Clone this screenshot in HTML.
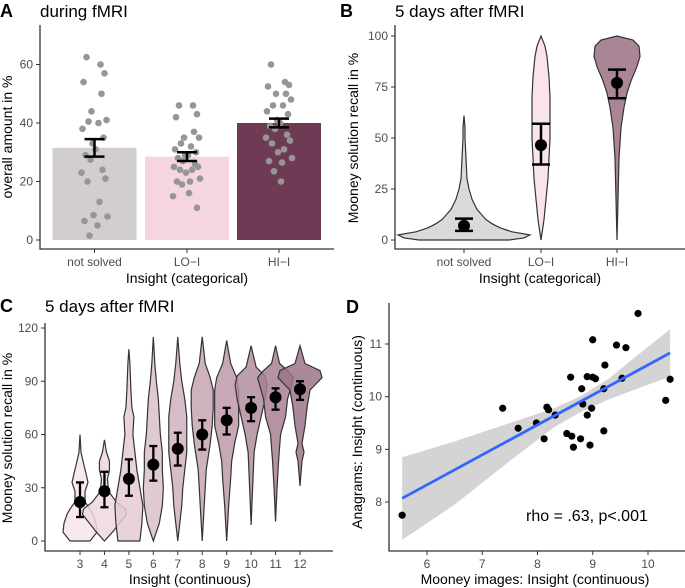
<!DOCTYPE html>
<html><head><meta charset="utf-8"><style>
html,body{margin:0;padding:0;background:#fff}
svg{display:block;font-family:"Liberation Sans",Arial,sans-serif}
.tick{font-size:12px;fill:#4d4d4d}
.atitle{font-size:14px;fill:#000}
.ptitle{font-size:17px;fill:#000}
.letter{font-size:18px;font-weight:bold;fill:#000}
</style></head><body>
<svg id="fig" width="685" height="588" viewBox="0 0 685 588" xmlns="http://www.w3.org/2000/svg"></svg>
<script>
// ---------- Panel A data ----------
const aCategories = ["not solved","LO\u2212I","HI\u2212I"];
const aMeans = [31.5, 28.5, 40];
const aErrLo = [28.5, 27, 38.5];
const aErrHi = [34.5, 30, 41.5];
const aPointsNS = [62.5,60,57,54,50,44,41,40.5,40,38,35,33,31,29,27.5,24,23,21,20,13,8.5,8,6.5,5,1.5];
const aPointsLO = [46,46,43,42,37,35,35,33,32,31,30,29,29,28,27,26,25,25,24,24,23,21,20,20,19,16,15,11];
const aPointsHI = [60,54,53,52.5,50,50,48,46,46,44,43,41,40,39,38,36,35,34,33,31,30,28,27,26.5,23.5,20];
const aTicks = [0,20,40,60];
// ---------- Panel B data ----------
const bCategories = ["not solved","LO\u2212I","HI\u2212I"];
const bMeans = [7, 46.5, 77];
const bErrLo = [4.5, 37, 69.5];
const bErrHi = [10.5, 57, 83.5];
const bViolinNS = [[0,45],[1,60],[2.5,66],[4,48],[6,36],[8,28],[10,22],[15,13],[20,8],[25,5],[30,3],[35,2.5],[40,2],[45,1.5],[50,1],[55,1],[61,0]];
const bViolinLO = [[0,0],[10,3],[20,5],[30,7],[40,8],[50,9],[60,9],[70,9],[80,8],[90,6],[95,4],[100,0]];
const bViolinHI = [[0,0],[20,1],[40,2],[55,4],[65,7],[72,10],[78,14],[85,20],[90,23],[95,22],[98,16],[100,0]];
const bTicks = [0,25,50,75,100];
// ---------- Panel C data ----------
const cLevels = [3,4,5,6,7,8,9,10,11,12];
const cMeans = [22,28,35,43,52,60,68,75,81,85.5];
const cErrLo = [13.5,19,25.5,34,42.5,51.5,60,67.5,74,79.5];
const cErrHi = [33,39,46,53.5,61,68,75,81,86,90];
const cViolins = [
 [[0,10],[5,17],[10,16],[15,13],[18,10],[22,5],[28,5],[33,8],[38,6],[45,3],[50,1],[60,0]],
 [[0,0],[5,8],[10,15],[15,22],[18,21],[22,12],[28,4],[35,3],[40,5],[45,5],[50,2],[57,0]],
 [[0,11],[10,13],[20,14],[30,11],[40,8],[50,6],[60,4],[70,5],[75,3],[85,2],[100,1],[108,0]],
 [[0,0],[10,6],[20,9],[30,10],[40,9],[50,9],[60,7],[70,6],[80,5],[90,3],[100,1.5],[115,0]],
 [[0,0],[10,2],[20,4],[30,5],[40,7],[50,9],[60,9],[70,9],[80,7],[90,4],[100,2],[115,0]],
 [[0,0],[20,2],[40,4],[55,8],[65,10],[75,11],[85,11],[92,8],[100,3],[115,0]],
 [[0,0],[20,2],[35,4],[45,5],[55,8],[65,12],[75,12],[85,12],[92,10],[100,4],[113,0]],
 [[9,0],[30,1.5],[50,3],[60,6],[70,10],[80,14],[88,16],[93,14],[98,5],[110,0]],
 [[11,0],[30,1.5],[45,3],[60,5],[70,10],[80,12],[88,16],[92,18],[96,12],[100,4],[110,0]],
 [[31,0],[45,2],[50,4],[55,2],[65,5],[75,7],[85,10],[92,22],[96,20],[100,5],[110,0]]
];
const cTicks = [0,30,60,90,120];
// ---------- Panel D data ----------
const dX = [5.55,7.37,7.65,7.98,8.12,8.17,8.2,8.32,8.53,8.6,8.62,8.65,8.78,8.8,8.82,8.9,8.9,8.95,8.98,9,9.05,9,9.2,9.2,9.22,9.43,9.53,9.6,9.82,10.32,10.4];
const dY = [7.75,9.78,9.4,9.5,9.2,9.8,9.75,9.65,9.3,10.37,9.25,9.04,9.2,10.15,9.86,9.65,10.38,9.08,9.78,10.37,10.34,11.08,10.15,9.35,10.6,10.98,10.35,10.93,11.58,9.93,10.33];
const dFitX = [5.55,10.4];
const dFitY = [8.07,10.83];
const dBandX = [5.55,6.5,7.5,8.3,8.8,9.3,9.8,10.4];
const dBandLo = [7.28,7.95,8.78,9.42,9.72,9.95,10.15,10.38];
const dBandHi = [8.85,9.15,9.50,9.78,10.02,10.35,10.78,11.28];
const dXTicks = [6,7,8,9,10];
const dYTicks = [8,9,10,11];

const NS="http://www.w3.org/2000/svg";
const svg=document.getElementById('fig');
function mk(tag,attrs,parent){const e=document.createElementNS(NS,tag);for(const k in attrs)e.setAttribute(k,attrs[k]);(parent||svg).appendChild(e);return e;}
function txt(s,x,y,cls,anchor,parent){const t=mk('text',{x:x,y:y,class:cls,'text-anchor':anchor||'start'},parent);t.textContent=s;return t;}

// ===== Panel A =====
const gA=mk('g',{});


const aY=v=>240-v*(58.5/20);
const aXc=[94.5,187,279];
let t=txt('A',0,17,'letter','start',gA);

t=txt('during fMRI',40,17,'ptitle','start',gA);

const aColors=['#d2cece','#f4d5e1','#6f3a53'];
aMeans.forEach((m,i)=>{
  const r=mk('rect',{x:aXc[i]-42,y:aY(m),width:84,height:aY(0)-aY(m),fill:aColors[i]},gA);
  
});
const jit=[-8,6,10,-11,7,-3,12,-6,4,-12,9,-2,1,-9,-4,8,-13,11,-7,5,-1,13,-10,3,-5,2,-14,10];
[aPointsNS,aPointsLO,aPointsHI].forEach((arr,i)=>{
  arr.forEach((v,j)=>{
    const c=mk('circle',{cx:aXc[i]+jit[j%jit.length],cy:aY(v),r:3.3,fill:'#969696'},gA);
    
  });
});
aMeans.forEach((m,i)=>{
  const x=aXc[i];
  const g=mk('g',{stroke:'#000','stroke-width':2.5},gA);
  
  mk('line',{x1:x,x2:x,y1:aY(aErrLo[i]),y2:aY(aErrHi[i])},g);
  mk('line',{x1:x-10,x2:x+10,y1:aY(aErrLo[i]),y2:aY(aErrLo[i])},g);
  mk('line',{x1:x-10,x2:x+10,y1:aY(aErrHi[i]),y2:aY(aErrHi[i])},g);
});
mk('polyline',{points:'40,25 40,249 334,249',fill:'none',stroke:'#333','stroke-width':1.3},gA);
aTicks.forEach(v=>{mk('line',{x1:36,x2:40,y1:aY(v),y2:aY(v),stroke:'#333'},gA);txt(String(v),33,aY(v)+4,'tick','end',gA);});
aCategories.forEach((c,i)=>{mk('line',{x1:aXc[i],x2:aXc[i],y1:249,y2:253,stroke:'#333'},gA);txt(c,aXc[i],266,'tick','middle',gA);});
t=txt('Insight (categorical)',187,283,'atitle','middle',gA);
t=txt('overall amount in %',0,0,'atitle','middle',gA);t.setAttribute('transform','translate(12,137) rotate(-90)');


function violinPath(prof,cx,yf,scale){
  let right=prof.map(p=>(cx+p[1]*scale)+','+yf(p[0]));
  let left=prof.slice().reverse().map(p=>(cx-p[1]*scale)+','+yf(p[0]));
  return 'M'+right.join(' L')+' L'+left.join(' L')+' Z';
}

// ===== Panel B =====
const gB=mk('g',{});


const bY=v=>240-v*(204/100);
const bXc=[464,541,617];
t=txt('B',340,17,'letter','start',gB);
t=txt('5 days after fMRI',395,17,'ptitle','start',gB);
const bColors=['#d9d9d9','#f9e3ec','#aa8595'];
[bViolinNS,bViolinLO,bViolinHI].forEach((prof,i)=>{
  const p=mk('path',{d:violinPath(prof,bXc[i],bY,1),fill:bColors[i],stroke:'#333','stroke-width':1.2},gB);
  
});
bMeans.forEach((m,i)=>{
  const x=bXc[i];
  const g=mk('g',{stroke:'#000','stroke-width':2.5},gB);
  
  mk('line',{x1:x,x2:x,y1:bY(bErrLo[i]),y2:bY(bErrHi[i])},g);
  mk('line',{x1:x-9,x2:x+9,y1:bY(bErrLo[i]),y2:bY(bErrLo[i])},g);
  mk('line',{x1:x-9,x2:x+9,y1:bY(bErrHi[i]),y2:bY(bErrHi[i])},g);
  const c=mk('circle',{cx:x,cy:bY(m),r:6,fill:'#000'},gB);
  
});
mk('polyline',{points:'395,25 395,249 685,249',fill:'none',stroke:'#333','stroke-width':1.3},gB);
bTicks.forEach(v=>{mk('line',{x1:391,x2:395,y1:bY(v),y2:bY(v),stroke:'#333'},gB);txt(String(v),388,bY(v)+4,'tick','end',gB);});
bCategories.forEach((c,i)=>{mk('line',{x1:bXc[i],x2:bXc[i],y1:249,y2:253,stroke:'#333'},gB);txt(c,bXc[i],266,'tick','middle',gB);});
t=txt('Insight (categorical)',540,283,'atitle','middle',gB);
t=txt('Mooney solution recall in %',0,0,'atitle','middle',gB);t.setAttribute('transform','translate(358,138) rotate(-90)');


// ===== Panel C =====
const gC=mk('g',{});


const cY=v=>541-v*(213/120);
const cX=l=>80+(l-3)*(220/9);
t=txt('C',0,312,'letter','start',gC);
t=txt('5 days after fMRI',45,312,'ptitle','start',gC);
cViolins.forEach((prof,i)=>{
  const f=i/9;
  const r=Math.round(248+(158-248)*f),g=Math.round(228+(116-228)*f),b=Math.round(236+(136-236)*f);
  const p=mk('path',{d:violinPath(prof,cX(cLevels[i]),cY,1),fill:'rgb('+r+','+g+','+b+')','fill-opacity':0.85,stroke:'#333','stroke-width':1.2},gC);
  
});
cMeans.forEach((m,i)=>{
  const x=cX(cLevels[i]);
  const g=mk('g',{stroke:'#000','stroke-width':2.3},gC);
  
  mk('line',{x1:x,x2:x,y1:cY(cErrLo[i]),y2:cY(cErrHi[i])},g);
  mk('line',{x1:x-4,x2:x+4,y1:cY(cErrLo[i]),y2:cY(cErrLo[i])},g);
  mk('line',{x1:x-4,x2:x+4,y1:cY(cErrHi[i]),y2:cY(cErrHi[i])},g);
  const c=mk('circle',{cx:x,cy:cY(m),r:6,fill:'#000'},gC);
  
});
mk('polyline',{points:'45,323 45,551 333,551',fill:'none',stroke:'#333','stroke-width':1.3},gC);
cTicks.forEach(v=>{mk('line',{x1:41,x2:45,y1:cY(v),y2:cY(v),stroke:'#333'},gC);txt(String(v),38,cY(v)+4,'tick','end',gC);});
cLevels.forEach(l=>{mk('line',{x1:cX(l),x2:cX(l),y1:551,y2:555,stroke:'#333'},gC);txt(String(l),cX(l),568,'tick','middle',gC);});
t=txt('Insight (continuous)',190,584,'atitle','middle',gC);
t=txt('Mooney solution recall in %',0,0,'atitle','middle',gC);t.setAttribute('transform','translate(12,438) rotate(-90)');


// ===== Panel D =====
const gD=mk('g',{});


const dXs=v=>427+(v-6)*(221/4);
const dYs=v=>344+(11-v)*(158/3);
t=txt('D',346,313,'letter','start',gD);
let band=dBandX.map((x,i)=>dXs(x)+','+dYs(dBandHi[i])).concat(dBandX.slice().reverse().map((x,k)=>{const i=dBandX.length-1-k;return dXs(x)+','+dYs(dBandLo[i]);}));
const bp=mk('polygon',{points:band.join(' '),fill:'#d4d4d4'},gD);

dX.forEach((x,i)=>{
  const c=mk('circle',{cx:dXs(x),cy:dYs(dY[i]),r:3.6,fill:'#000'},gD);
  
});
const fl=mk('line',{x1:dXs(dFitX[0]),y1:dYs(dFitY[0]),x2:dXs(dFitX[1]),y2:dYs(dFitY[1]),stroke:'#3366ff','stroke-width':2.8},gD);

mk('polyline',{points:'389,303 389,551 685,551',fill:'none',stroke:'#333','stroke-width':1.3},gD);
dXTicks.forEach(v=>{mk('line',{x1:dXs(v),x2:dXs(v),y1:551,y2:555,stroke:'#333'},gD);txt(String(v),dXs(v),568,'tick','middle',gD);});
dYTicks.forEach(v=>{mk('line',{x1:385,x2:389,y1:dYs(v),y2:dYs(v),stroke:'#333'},gD);txt(String(v),382,dYs(v)+4,'tick','end',gD);});
t=txt('rho = .63, p<.001',526,521,'atitle','start',gD);t.setAttribute('style','font-size:16px');

t=txt('Mooney images: Insight (continuous)',535,584,'atitle','middle',gD);
t=txt('Anagrams: Insight (continuous)',0,0,'atitle','middle',gD);t.setAttribute('transform','translate(362,432) rotate(-90)');

</script>
</body></html>
